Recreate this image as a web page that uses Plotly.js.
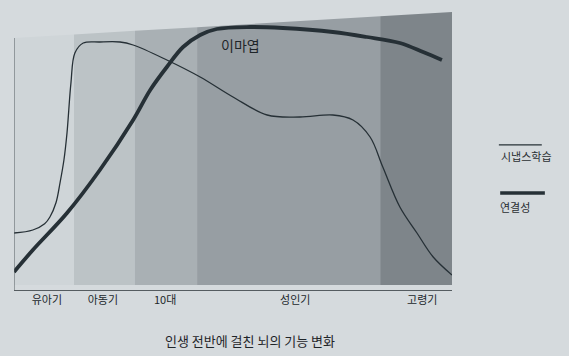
<!DOCTYPE html>
<html><head><meta charset="utf-8">
<script src="https://cdn.plot.ly/plotly-3.0.1.min.js"></script>
<style>html,body{margin:0;padding:0;background:#d5dadd;}</style>
</head><body><div id="chart" style="width:569px;height:356px;"></div>
<script>
// Life stages (x in 0..100 along the lifespan)
const stageNames = ['유아기', '아동기', '10대', '성인기', '고령기'];
const stageLabelX = [7.5, 20.3, 34.5, 64.2, 93.2];
const stageEdges = [0, 13.7, 27.6, 41.8, 83.6, 100];

// 시냅스학습 (thin line)
const synX = [0, 4.3, 7, 8.2, 9.6, 10.5, 11.4, 12.1, 13.0, 13.9, 15.8, 19.6, 24.2, 27.2, 34.9, 42.5, 50, 57.8, 65.3, 72.8, 77.4, 81.3, 84.2, 88.1, 92.0, 95.7, 100];
const synY = [22.8, 24, 26.5, 29.2, 35, 42.8, 52, 62.8, 82.8, 94.8, 98.8, 99.2, 99.2, 98, 92, 85.2, 77.2, 70, 69.2, 70, 68, 61.2, 49.2, 33.2, 22.8, 13.2, 6];

// 연결성 (thick line)
const conX = [0, 4.3, 12.1, 19.6, 27.2, 31.1, 34.9, 38.6, 42.5, 46.3, 53.9, 61.4, 72.8, 80.6, 88.1, 93.4, 97.7];
const conY = [7.2, 16, 30.8, 48, 68, 80, 89.2, 97.2, 102, 104.4, 105.2, 104.8, 103.2, 101.2, 98.8, 95.2, 92];

const seriesNames = ['시냅스학습', '연결성'];
const peakLabel = '이마엽';
const chartTitle = '인생 전반에 걸친 뇌의 기능 변화';

const bandColors = ['#cfd5d8', '#bcc3c6', '#a9b0b4', '#979ea3', '#7e858a'];
const lineColor = '#263036';
const font = '"Noto Sans CJK KR", "Noto Sans", sans-serif';

function topAt(x) { return 100.8 + x * 0.104; }

const shapes = [];
for (let i = 0; i < stageNames.length; i++) {
  const a = stageEdges[i], b = stageEdges[i + 1];
  shapes.push({
    type: 'path', xref: 'x', yref: 'y', layer: 'below',
    path: `M ${a},2 L ${b},2 L ${b},${topAt(b)} L ${a},${topAt(a)} Z`,
    fillcolor: bandColors[i], line: {width: 0}
  });
}
// left axis line
shapes.push({type: 'line', xref: 'x', yref: 'y', x0: 0, x1: 0, y0: 0, y1: topAt(0), line: {color: '#555c60', width: 1}});
// legend samples
shapes.push({type: 'line', xref: 'paper', yref: 'paper', x0: 1.107, x1: 1.205, y0: 0.518, y1: 0.518, line: {color: lineColor, width: 1.2}});
shapes.push({type: 'line', xref: 'paper', yref: 'paper', x0: 1.11, x1: 1.212, y0: 0.346, y1: 0.346, line: {color: lineColor, width: 3.5}});
// bottom light strip of the page
shapes.push({type: 'rect', xref: 'paper', yref: 'paper', x0: -0.04, x1: 1.27, y0: -0.236, y1: -0.26, fillcolor: '#eceff0', line: {width: 0}});

const data = [
  {x: synX, y: synY, type: 'scatter', mode: 'lines', name: seriesNames[0],
   line: {color: lineColor, width: 1.3, shape: 'spline', smoothing: 1}},
  {x: conX, y: conY, type: 'scatter', mode: 'lines', name: seriesNames[1],
   line: {color: lineColor, width: 3.8, shape: 'spline', smoothing: 1}}
];

const layout = {
  width: 569, height: 356,
  margin: {l: 14, r: 117, t: 10, b: 66},
  paper_bgcolor: '#d5dadd', plot_bgcolor: 'rgba(0,0,0,0)',
  showlegend: false,
  font: {family: font, color: '#2a2f33'},
  xaxis: {range: [0, 100], showgrid: false, zeroline: false, showline: true, linecolor: '#555c60', linewidth: 1,
          tickvals: stageLabelX, ticktext: stageNames, ticks: '', tickfont: {size: 11, color: '#22282c', family: font}, fixedrange: true},
  yaxis: {range: [0, 112], showgrid: false, zeroline: false, showline: false, showticklabels: false, ticks: '', fixedrange: true},
  shapes: shapes,
  annotations: [
    {x: 51.6, y: 98, xref: 'x', yref: 'y', xanchor: 'center', yanchor: 'middle', text: peakLabel, showarrow: false, font: {size: 14, color: '#1f2529', family: font}},
    {x: 1.171, y: 0.48, xref: 'paper', yref: 'paper', xanchor: 'center', yanchor: 'middle', text: seriesNames[0], showarrow: false, font: {size: 11, color: '#2a2f33', family: font}},
    {x: 1.144, y: 0.298, xref: 'paper', yref: 'paper', xanchor: 'center', yanchor: 'middle', text: seriesNames[1], showarrow: false, font: {size: 11, color: '#2a2f33', family: font}},
    {x: 0.539, y: -0.18, xref: 'paper', yref: 'paper', xanchor: 'center', yanchor: 'middle', text: chartTitle, showarrow: false, font: {size: 13, color: '#1f2529', family: font}}
  ]
};

Plotly.newPlot('chart', data, layout, {displayModeBar: false, staticPlot: true});
</script></body></html>
